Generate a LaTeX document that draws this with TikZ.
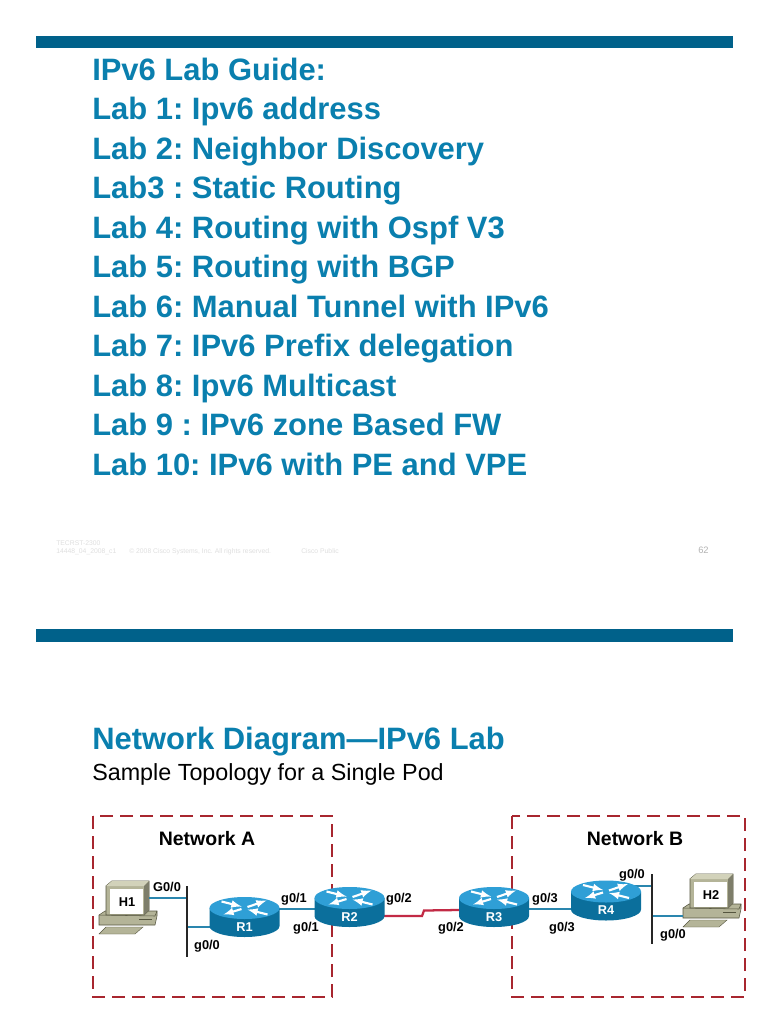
\documentclass[tikz,border=0pt]{standalone}
\usepackage{fontspec}
\setmainfont{Liberation Sans}
\usetikzlibrary{positioning,shapes,arrows}
\frenchspacing
\definecolor{barblue}{HTML}{00618A}
\definecolor{titleblue}{HTML}{0A7FAE}
\definecolor{routertop}{HTML}{2F9FD6}
\definecolor{routerside}{HTML}{0B6F9C}
\definecolor{linkblue}{HTML}{2A86AE}
\definecolor{boxred}{HTML}{A8262F}
\definecolor{serialred}{HTML}{C22A45}
\definecolor{hostface}{HTML}{B4B498}
\definecolor{hostlight}{HTML}{D2D2BA}
\definecolor{hostdark}{HTML}{55553F}
\tikzset{
	topbar/.style={fill=barblue,draw=none},
	labline/.style={anchor=base west,inner sep=0pt,text=titleblue,font=\fontsize{23.2}{24}\selectfont\bfseries},
	footnote/.style={anchor=base west,inner sep=0pt,text=black!13,font=\fontsize{5.1}{6}\selectfont},
	netbox/.style={draw=boxred,line width=1.6pt,dash pattern=on 10pt off 5pt},
	netlabel/.style={inner sep=0pt,font=\fontsize{14.6}{15}\selectfont\bfseries},
	portlabel/.style={inner sep=0pt,font=\fontsize{9.6}{10}\selectfont\bfseries},
	link/.style={draw=linkblue,line width=1.7pt},
	serial/.style={draw=serialred,line width=1.7pt},
	segment/.style={draw=black!85,line width=1.7pt},
	flow/.style={draw=white,line width=1.6pt,-latex},
	router/.pic={
		% body, top disc and the four arrows
		\fill[routerside] (-35,-9) -- (-35,9) arc[start angle=180,end angle=0,x radius=35,y radius=11]
			-- (35,-9) -- cycle;
		\fill[routertop] (0,-9) ellipse[x radius=35,y radius=11];
		\draw[flow] (3,-10) -- (22,-16.5);
		\draw[flow] (-3,-8) -- (-21,-2.5);
		\draw[flow] (-23,-15.5) -- (-3,-10.5);
		\draw[flow] (23,-2.5) -- (3,-7.5);
		\node[text=white,inner sep=0pt,font=\fontsize{9.6}{10}\selectfont\bfseries] at (0,10) {#1};
	},
	host/.pic={
		% base and keyboard behind the monitor
		\fill[hostface,draw=hostdark,line width=.4pt] (-28,13) -- (-22,9) -- (30,9) -- (30,14) -- (28,23) -- (-28,23) -- cycle;
		\draw[hostdark,line width=.4pt] (-28,13) -- (28,14) -- (30,9);
		\fill[hostdark] (12,16.5) rectangle (25,18);
		\fill[hostface,draw=hostdark,line width=.3pt] (-28,32) -- (-21,25) -- (16,25) -- (8,32) -- cycle;
		% monitor
		\fill[hostface,draw=hostdark,line width=.6pt] (-21,-16) -- (-15,-21) -- (22,-21) -- (22,8) -- (17,13) -- (-21,13) -- cycle;
		\fill[hostlight] (-21,-16) -- (-15,-21) -- (22,-21) -- (17,-16) -- cycle;
		\fill[hostface!70!black] (17,-16) -- (22,-21) -- (22,8) -- (17,13) -- cycle;
		\fill[white] (-17,-13) rectangle (16,12);
		\node[inner sep=0pt,font=\fontsize{9.6}{10}\selectfont\bfseries] at (0,0) {#1};
		\coordinate (-e) at (22,-4);
		\coordinate (-w) at (-28,14);
	}
}
\begin{document}
\begin{tikzpicture}[x=0.75pt,y=-0.75pt]
	\useasboundingbox (0,0) rectangle (768,1024);

	% Top slide
	\fill[topbar] (36,36) rectangle (733,48);
	\foreach \i/\txt in {0/{IPv6 Lab Guide:},1/{Lab 1: Ipv6 address},2/{Lab 2: Neighbor Discovery},
		3/{Lab3 : Static Routing},4/{Lab 4: Routing with Ospf V3},5/{Lab 5: Routing with BGP},
		6/{Lab 6: Manual Tunnel with IPv6},7/{Lab 7: IPv6 Prefix delegation},8/{Lab 8: Ipv6 Multicast},
		9/{Lab 9 : IPv6 zone Based FW},10/{Lab 10: IPv6 with PE and VPE}}
		\node[labline] (lab\i) at (92,{80+39.5*\i}) {\txt};

	% Footer
	\node[footnote] (course) at (56,545) {TECRST-2300};
	\node[footnote] (code) at (56,553) {14448\_04\_2008\_c1};
	\node[footnote] (copy) at (129,553) {© 2008 Cisco Systems, Inc. All rights reserved.};
	\node[footnote] (public) at (301,553) {Cisco Public};
	\node[footnote,text=black!30,font=\fontsize{7}{8}\selectfont] (page) at (698,553) {62};

	% Second slide
	\fill[topbar] (36,629) rectangle (733,642);
	\node[labline] (title) at (92,749) {Network Diagram—IPv6 Lab};
	\node[anchor=base west,inner sep=0pt,font=\fontsize{17.5}{18}\selectfont] (subtitle) at (92,780) {Sample Topology for a Single Pod};

	% Network boxes
	\draw[netbox] (93,816) rectangle (332,997);
	\draw[netbox] (512,816) rectangle (745,997);
	\node[netlabel] (netA) at (207,839) {Network A};
	\node[netlabel] (netB) at (635,839) {Network B};

	% Ethernet segments
	\coordinate (segAtop) at (187,886);
	\coordinate (segAbot) at (187,957);
	\coordinate (segBtop) at (652,874);
	\coordinate (segBbot) at (652,944);
	\coordinate (segAh) at (187,898);
	\coordinate (segAr) at (187,927);
	\coordinate (segBr) at (652,886);
	\coordinate (segBh) at (652,916);

	% Devices
	\pic (H1) at (127,902) {host=H1};
	\pic (H2) at (711,895) {host=H2};
	\coordinate (R1l) at (212,927);
	\coordinate (R4r) at (630,886);
	\draw[link] (segAr) -- (R1l);
	\draw[link] (R4r) -- (segBr);
	\draw[link] (H1-e |- segAh) -- (segAh);
	\draw[link] (segBh) -- (H2-w |- segBh);
	\draw[segment] (segAtop) -- (segAbot);
	\draw[segment] (segBtop) -- (segBbot);

	\coordinate (R2s) at (384,916);
	\coordinate (R3s) at (459,910);
	\draw[serial] (R2s) -- (422,916) -- (424,910.5) -- (R3s);
	\coordinate (R1r) at (279,909);
	\coordinate (R2l) at (315,909);
	\coordinate (R3r) at (529,909);
	\coordinate (R4l) at (571,909);
	\draw[link] (R1r) -- (R2l);
	\draw[link] (R3r) -- (R4l);

	\pic (R1) at (244.5,917) {router=R1};
	\pic (R2) at (349.5,907) {router=R2};
	\pic (R3) at (494,907) {router=R3};
	\pic (R4) at (606,900.5) {router=R4};

	% Port labels
	\node[portlabel] (pH1) at (167,887) {G0/0};
	\node[portlabel] (pR1a) at (207,946) {g0/0};
	\node[portlabel] (pR1b) at (294,899) {g0/1};
	\node[portlabel] (pR2a) at (306,928) {g0/1};
	\node[portlabel] (pR2b) at (399,899) {g0/2};
	\node[portlabel] (pR3a) at (451,928) {g0/2};
	\node[portlabel] (pR3b) at (545,899) {g0/3};
	\node[portlabel] (pR4a) at (562,928) {g0/3};
	\node[portlabel] (pR4b) at (632,875) {g0/0};
	\node[portlabel] (pH2) at (673,935) {g0/0};
\end{tikzpicture}
\end{document}
